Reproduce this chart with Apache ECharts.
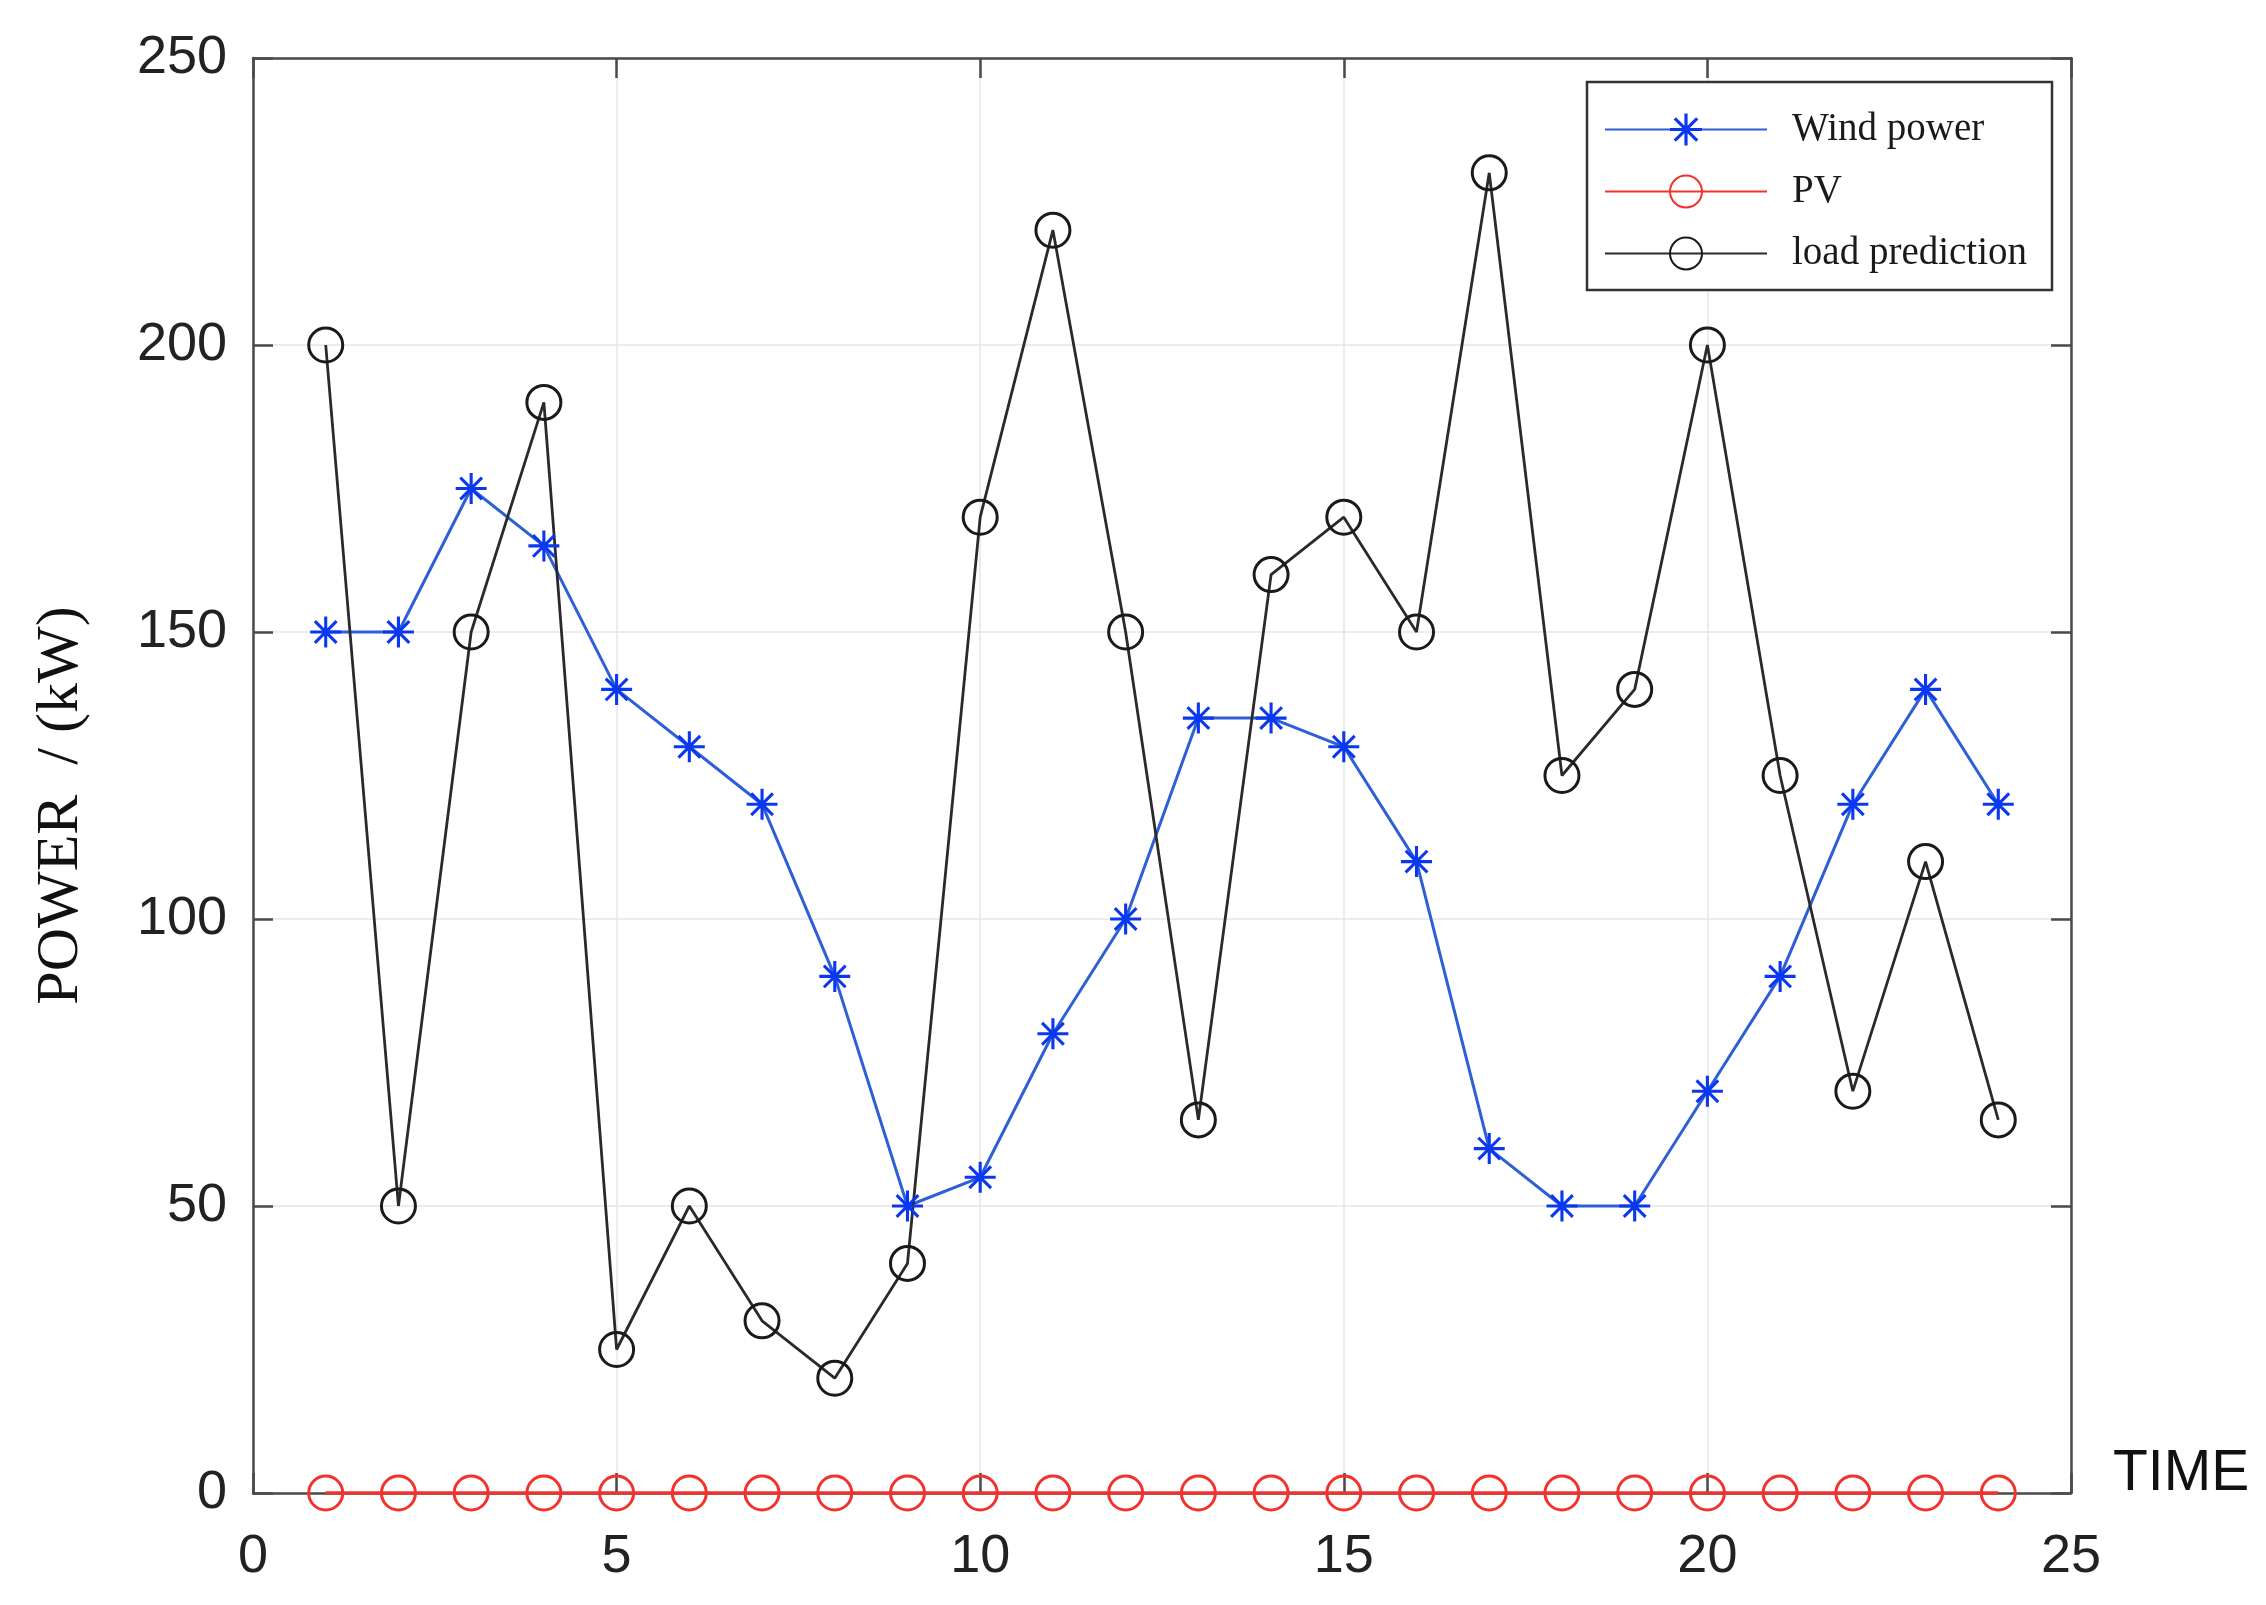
<!DOCTYPE html>
<html>
<head>
<meta charset="utf-8">
<script src="https://cdn.jsdelivr.net/npm/echarts@6/dist/echarts.min.js"></script>
<style>
html,body{margin:0;padding:0;background:#fff;}
#chart{width:2266px;height:1605px;}
</style>
</head>
<body>
<div id="chart"></div>
<script>
const hours = [1,2,3,4,5,6,7,8,9,10,11,12,13,14,15,16,17,18,19,20,21,22,23,24];
const windPower = [150,150,175,165,140,130,120,90,50,55,80,100,135,135,130,110,60,50,50,70,90,120,140,120];
const pvPower = [0,0,0,0,0,0,0,0,0,0,0,0,0,0,0,0,0,0,0,0,0,0,0,0];
const loadPrediction = [200,50,150,190,25,50,30,20,40,170,220,150,65,160,170,150,230,125,140,200,125,70,110,65];
const seriesNames = ['Wind power', 'PV', 'load prediction'];
const xTicks = [0,5,10,15,20,25];
const yTicks = [0,50,100,150,200,250];

const pair = (vals) => hours.map((h, i) => [h, vals[i]]);

const asterisk = 'path://M0 45L100 45L100 55L0 55Z M45 0L55 0L55 100L45 100Z M11.5 18.5L18.5 11.5L88.5 81.5L81.5 88.5Z M81.5 11.5L88.5 18.5L18.5 88.5L11.5 81.5Z';

const chart = echarts.init(document.getElementById('chart'));
const sans = 'Liberation Sans, Arial, sans-serif';
const serif = 'Liberation Serif, Times New Roman, serif';
const axisColor = '#4a4a4a';
const gridColor = '#e6e6e6';

const baseX = {
  type: 'value', min: xTicks[0], max: xTicks[xTicks.length-1], interval: 5,
  axisLine: {show: true, onZero: false, lineStyle: {color: axisColor, width: 2.5}},
  axisTick: {show: true, inside: true, length: 20, lineStyle: {color: axisColor, width: 2.5}},
  splitLine: {show: false}
};
const baseY = {
  type: 'value', min: yTicks[0], max: yTicks[yTicks.length-1], interval: 50,
  axisLine: {show: true, onZero: false, lineStyle: {color: axisColor, width: 2.5}},
  axisTick: {show: true, inside: true, length: 20, lineStyle: {color: axisColor, width: 2.5}},
  splitLine: {show: false}
};

chart.setOption({
  animation: false,
  backgroundColor: '#ffffff',
  grid: {left: 253, right: 195, top: 58, bottom: 112, containLabel: false},
  legend: {
    orient: 'vertical',
    left: 1587, top: 82,
    data: seriesNames,
    itemWidth: 162, itemHeight: 40, itemGap: 23,
    padding: [28, 25, 17, 17],
    borderColor: '#333', borderWidth: 2.5,
    backgroundColor: '#fff',
    textStyle: {fontFamily: serif, fontSize: 39, color: '#1a1a1a', padding: [0,0,0,20]}
  },
  xAxis: [
    Object.assign({}, baseX, {
      position: 'bottom',
      name: 'TIME', nameLocation: 'end', nameGap: 42,
      nameTextStyle: {fontFamily: sans, fontSize: 57, color: '#111', verticalAlign: 'bottom', lineHeight: 57, padding: [0,0,-10,0]},
      axisLabel: {show: true, fontFamily: sans, fontSize: 54, color: '#222', margin: 37},
      splitLine: {show: true, lineStyle: {color: gridColor, width: 1.5}}
    }),
    Object.assign({}, baseX, {position: 'top', axisLabel: {show: false}})
  ],
  yAxis: [
    Object.assign({}, baseY, {
      position: 'left',
      name: 'POWER  / (kW)', nameLocation: 'middle', nameGap: 162, nameRotate: 90,
      nameTextStyle: {fontFamily: serif, fontSize: 60, color: '#111', padding: [0, 60, 0, 0]},
      axisLabel: {show: true, fontFamily: sans, fontSize: 54, color: '#222', margin: 26},
      splitLine: {show: true, lineStyle: {color: gridColor, width: 1.5}}
    }),
    Object.assign({}, baseY, {position: 'right', axisLabel: {show: false}})
  ],
  series: [
    {
      name: seriesNames[0], type: 'line', xAxisIndex: 0, yAxisIndex: 0,
      data: pair(windPower),
      symbol: asterisk, symbolSize: 31,
      itemStyle: {color: '#0a38f0'},
      lineStyle: {color: '#2f5fd6', width: 3},
      z: 3
    },
    {
      name: seriesNames[1], type: 'line', xAxisIndex: 0, yAxisIndex: 0,
      data: pair(pvPower),
      symbol: 'circle', symbolSize: 34,
      itemStyle: {color: 'rgba(255,255,255,0)', borderColor: '#f2322c', borderWidth: 3},
      lineStyle: {color: '#f2322c', width: 3.5},
      z: 4
    },
    {
      name: seriesNames[2], type: 'line', xAxisIndex: 0, yAxisIndex: 0,
      data: pair(loadPrediction),
      symbol: 'circle', symbolSize: 34,
      itemStyle: {color: 'rgba(255,255,255,0)', borderColor: '#1a1a1a', borderWidth: 3},
      lineStyle: {color: '#2a2a2a', width: 2.8},
      z: 3
    }
  ]
});
</script>
</body>
</html>
